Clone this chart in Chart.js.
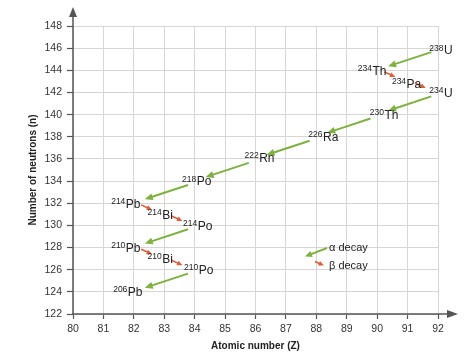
<!DOCTYPE html>
<html>
<head>
<meta charset="utf-8">
<script src="https://cdn.jsdelivr.net/npm/chart.js@4/dist/chart.umd.min.js"></script>
<style>
html,body{margin:0;padding:0;background:#fff;}
#wrap{width:474px;height:355px;position:relative;}
</style>
</head>
<body>
<div id="wrap"><canvas id="c" width="474" height="355"></canvas></div>
<script>
// ---- data ----
const protonNumbers  = [92, 90, 91, 92, 90, 88, 86, 84, 82, 83, 84, 82, 83, 84, 82];
const neutronNumbers = [146,144,143,142,140,138,136,134,132,131,130,128,127,126,124];
const massNumbers    = [238,234,234,234,230,226,222,218,214,214,214,210,210,210,206];
const elementSymbols = ['U','Th','Pa','U','Th','Ra','Rn','Po','Pb','Bi','Po','Pb','Bi','Po','Pb'];
const decaySteps     = ['α','β','β','α','α','α','α','α','β','β','α','β','β','α'];
const xTickValues = [80,81,82,83,84,85,86,87,88,89,90,91,92];
const yTickValues = [122,124,126,128,130,132,134,136,138,140,142,144,146,148];
const legendLabels = ['α decay','β decay'];

// ---- layout / style (not data) ----
const FONT = '"Liberation Sans", Arial, Helvetica, sans-serif';
const ALPHA_COLOR = '#7eb042';
const BETA_COLOR = '#d8613f';
const AXIS_COLOR = '#555555';
const TEXT_COLOR = '#222222';
const labelNudge = [[3,2],[-5,0],[-1,2],[3,0],[7,0],[7,0],[4,-1],[2,0],[-8,0],[-4,0],[3,0],[-8,0],[-4,0],[4,0],[-6,0]];

function arrow(ctx, x1, y1, x2, y2, color, lw, headLen, headW) {
  const ang = Math.atan2(y2 - y1, x2 - x1);
  const bx = x2 - Math.cos(ang) * headLen, by = y2 - Math.sin(ang) * headLen;
  ctx.save();
  ctx.strokeStyle = color; ctx.fillStyle = color; ctx.lineWidth = lw; ctx.lineCap = 'butt';
  ctx.beginPath(); ctx.moveTo(x1, y1); ctx.lineTo(bx + Math.cos(ang) * 1, by + Math.sin(ang) * 1); ctx.stroke();
  ctx.beginPath();
  ctx.moveTo(x2, y2);
  ctx.lineTo(bx + Math.sin(ang) * headW / 2, by - Math.cos(ang) * headW / 2);
  ctx.lineTo(bx - Math.sin(ang) * headW / 2, by + Math.cos(ang) * headW / 2);
  ctx.closePath(); ctx.fill();
  ctx.restore();
}

const decorPlugin = {
  id: 'decor',
  afterDraw(chart) {
    const {ctx, chartArea: ca, scales: {x, y}} = chart;
    // axes with arrowheads
    ctx.save();
    ctx.strokeStyle = AXIS_COLOR; ctx.fillStyle = AXIS_COLOR; ctx.lineWidth = 1.5;
    ctx.beginPath(); ctx.moveTo(ca.left, ca.bottom + 0.5); ctx.lineTo(ca.left, 14); ctx.stroke();
    ctx.beginPath(); ctx.moveTo(ca.left - 4, 17); ctx.lineTo(ca.left, 7); ctx.lineTo(ca.left + 4, 17); ctx.closePath(); ctx.fill();
    ctx.beginPath(); ctx.moveTo(ca.left - 0.5, ca.bottom); ctx.lineTo(450, ca.bottom); ctx.stroke();
    ctx.beginPath(); ctx.moveTo(447, ca.bottom - 4); ctx.lineTo(458, ca.bottom); ctx.lineTo(447, ca.bottom + 4); ctx.closePath(); ctx.fill();
    ctx.restore();

    // decay arrows between consecutive nuclides
    for (let i = 0; i < decaySteps.length; i++) {
      const ax = x.getPixelForValue(protonNumbers[i]), ay = y.getPixelForValue(neutronNumbers[i]);
      const bx = x.getPixelForValue(protonNumbers[i + 1]), by = y.getPixelForValue(neutronNumbers[i + 1]);
      const vx = bx - ax, vy = by - ay;
      if (decaySteps[i] === 'α') {
        arrow(ctx, ax + 0.11 * vx, ay + 0.11 * vy + 1.5, ax + 0.82 * vx, ay + 0.82 * vy, ALPHA_COLOR, 2, 8, 7);
      } else {
        arrow(ctx, ax + 0.24 * vx, ay + 0.24 * vy - 1, ax + 0.6 * vx, ay + 0.6 * vy, BETA_COLOR, 1.6, 5.5, 5);
      }
    }

    // nuclide labels
    ctx.save();
    ctx.fillStyle = TEXT_COLOR;
    ctx.textBaseline = 'alphabetic';
    ctx.textAlign = 'left';
    for (let i = 0; i < elementSymbols.length; i++) {
      const px = x.getPixelForValue(protonNumbers[i]) + labelNudge[i][0];
      const py = y.getPixelForValue(neutronNumbers[i]) + labelNudge[i][1];
      const mass = String(massNumbers[i]), sym = elementSymbols[i];
      ctx.font = '8.5px ' + FONT; const wm = ctx.measureText(mass).width;
      ctx.font = '12px ' + FONT; const ws = ctx.measureText(sym).width;
      const total = wm + 0.5 + ws;
      const sx = px - total / 2;
      const base = py + 4.3;
      ctx.font = '8.5px ' + FONT; ctx.fillText(mass, sx, base - 3.8);
      ctx.font = '12px ' + FONT; ctx.fillText(sym, sx + wm + 0.5, base);
    }
    ctx.restore();

    // legend
    arrow(ctx, 327, 248, 305, 256.5, ALPHA_COLOR, 2, 7, 6.5);
    arrow(ctx, 315, 261.5, 324, 265.5, BETA_COLOR, 1.6, 5.5, 5);
    ctx.save();
    ctx.fillStyle = TEXT_COLOR; ctx.font = '11px ' + FONT; ctx.textBaseline = 'middle'; ctx.textAlign = 'left';
    ctx.fillText(legendLabels[0], 329, 247.5);
    ctx.fillText(legendLabels[1], 329, 265.5);
    ctx.restore();
  }
};

new Chart(document.getElementById('c'), {
  type: 'scatter',
  data: {
    datasets: [{
      data: protonNumbers.map((z, i) => ({x: z, y: neutronNumbers[i]})),
      pointRadius: 0, pointHoverRadius: 0, showLine: false
    }]
  },
  options: {
    responsive: false, animation: false, devicePixelRatio: 1,
    events: [],
    layout: {padding: {top: 26, right: 36, left: 0, bottom: 0}},
    plugins: {legend: {display: false}, tooltip: {enabled: false}},
    scales: {
      x: {
        type: 'linear', min: 80, max: 92,
        afterBuildTicks: s => { s.ticks = xTickValues.map(v => ({value: v})); },
        afterFit: s => { s.height = 41; },
        grid: {color: '#d6d6d6', lineWidth: 1, drawTicks: true, tickLength: 5, tickColor: AXIS_COLOR, tickWidth: 1.2},
        border: {display: false},
        ticks: {color: '#333', font: {family: FONT, size: 10.5}, padding: 4, maxRotation: 0, autoSkip: false},
        title: {display: true, text: 'Atomic number (Z)', color: TEXT_COLOR, font: {family: FONT, size: 10, weight: 'bold'}, padding: {top: 0, bottom: 3}}
      },
      y: {
        type: 'linear', min: 122, max: 148,
        afterBuildTicks: s => { s.ticks = yTickValues.map(v => ({value: v})); },
        afterFit: s => { s.width = 73; },
        grid: {color: '#d6d6d6', lineWidth: 1, drawTicks: true, tickLength: 6, tickColor: AXIS_COLOR, tickWidth: 1.2},
        border: {display: false},
        ticks: {color: '#333', font: {family: FONT, size: 10.5}, padding: 5, autoSkip: false},
        title: {display: true, text: 'Number of neutrons (n)', color: TEXT_COLOR, font: {family: FONT, size: 10, weight: 'bold'}, padding: {top: 27, bottom: 0}}
      }
    }
  },
  plugins: [decorPlugin]
});
</script>
</body>
</html>
